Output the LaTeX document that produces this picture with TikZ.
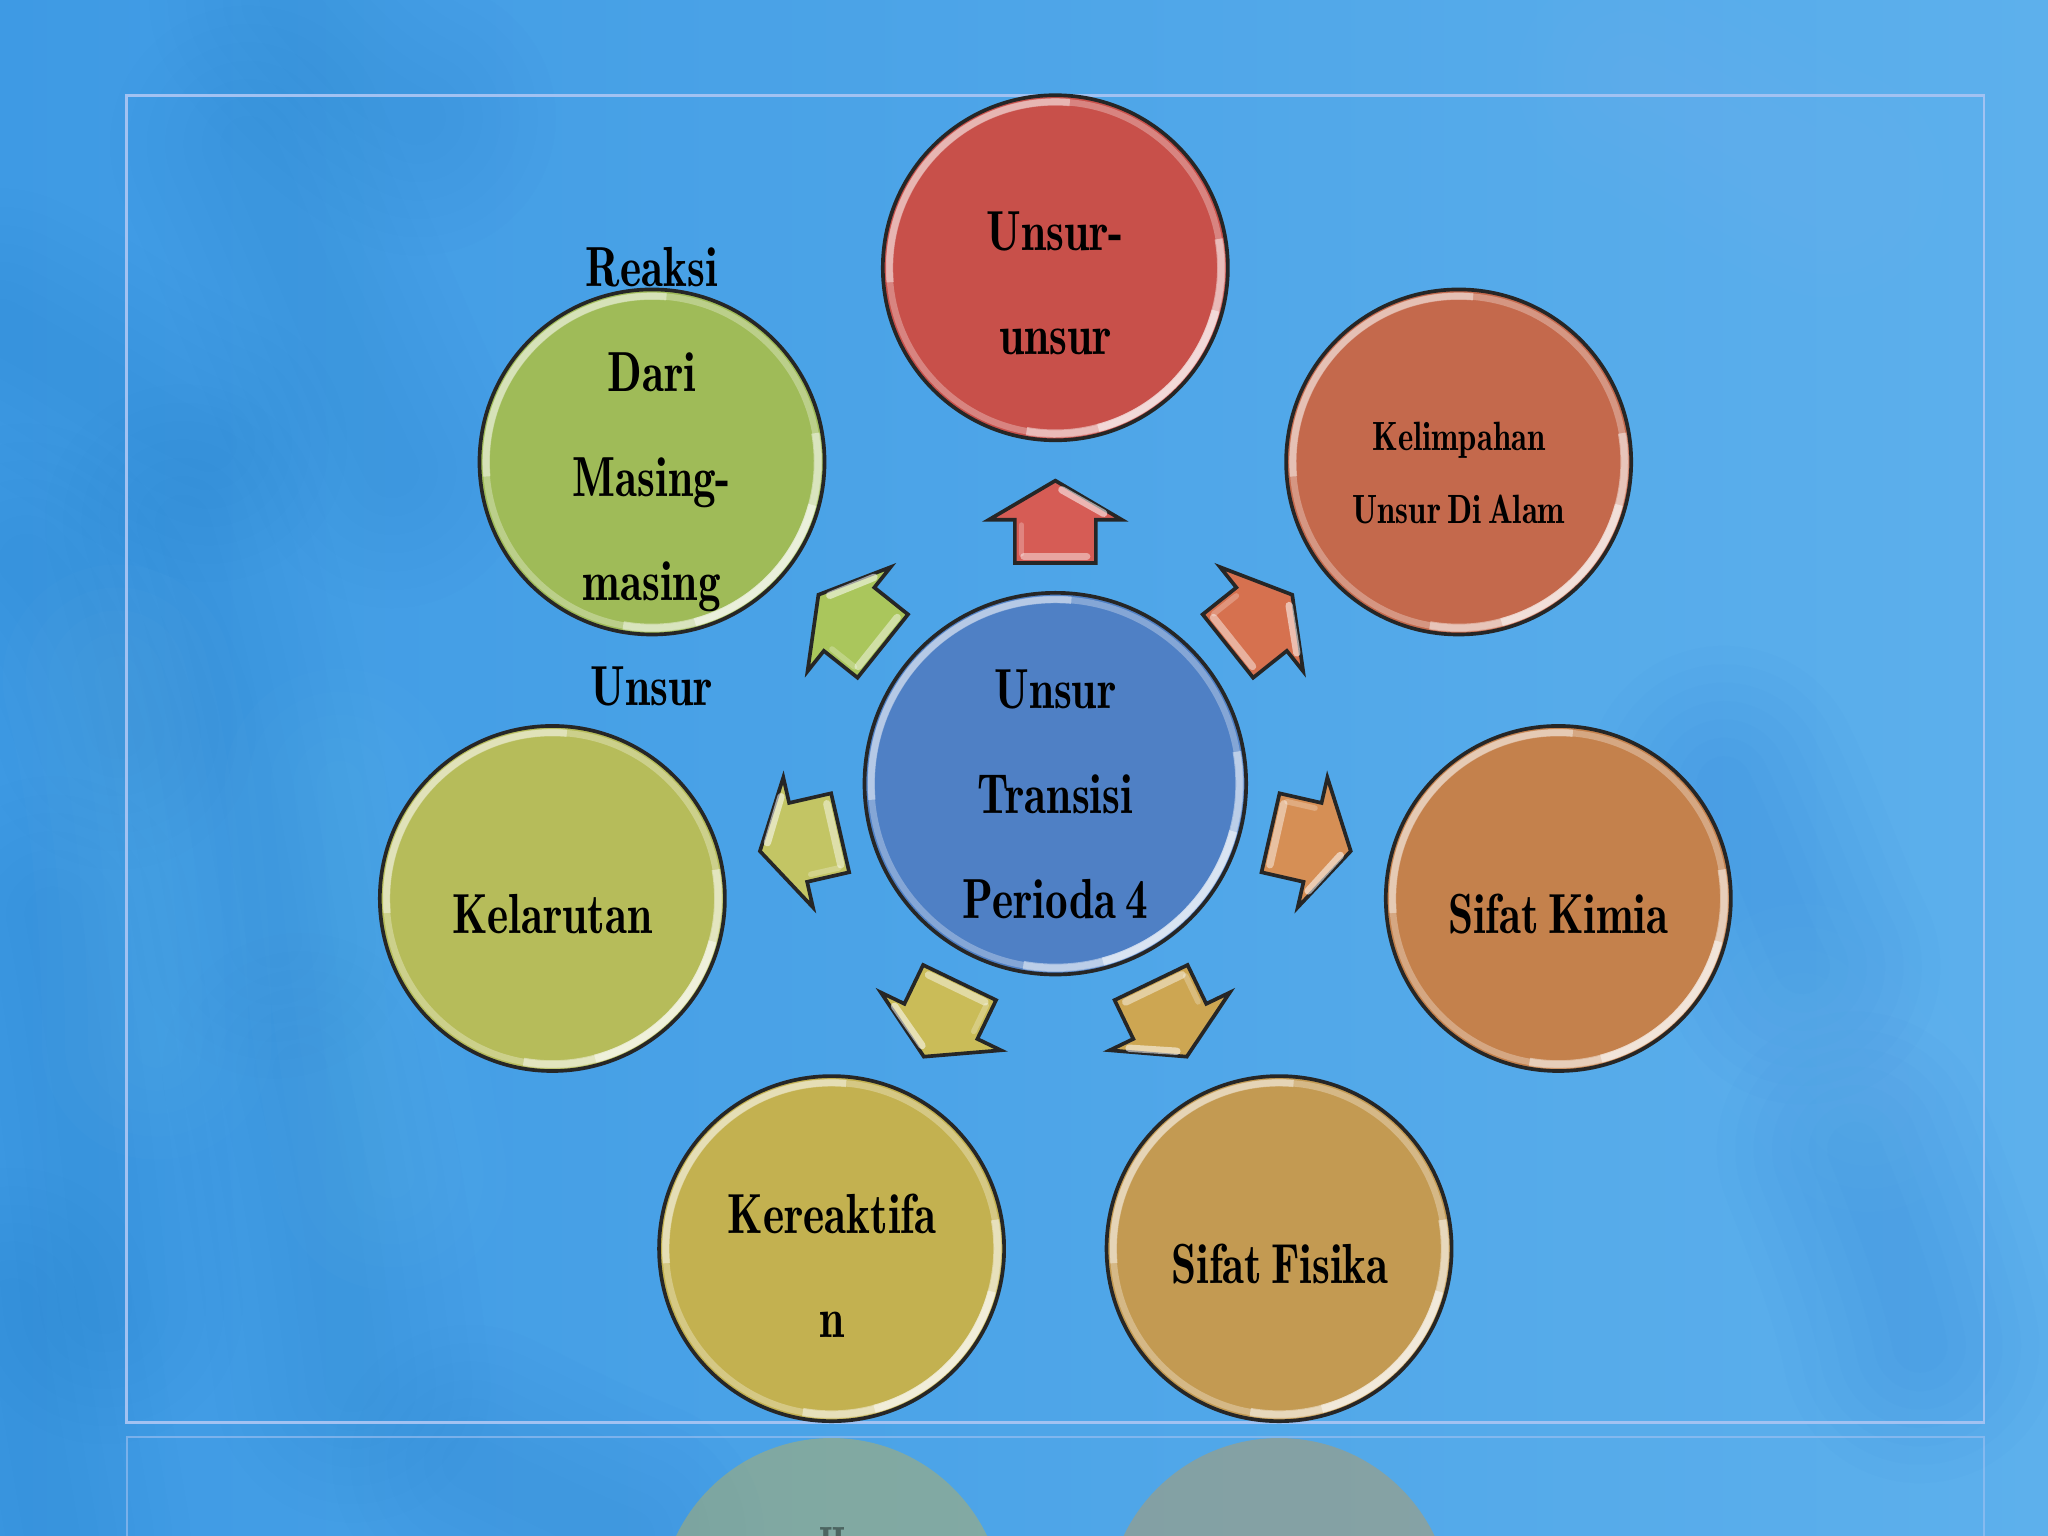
\documentclass[tikz,border=0pt]{standalone}
\usepackage{fontspec}
\newfontfamily\gab{lmromandemi10-regular.otf}[FakeStretch=0.80, WordSpace=0.6]
\usetikzlibrary{calc}
\definecolor{bgL}{HTML}{3E9AE4}
\definecolor{bgR}{HTML}{5DB0EC}
\definecolor{bgD}{HTML}{1C74C4}
\definecolor{bgLt}{HTML}{7CC4F4}
\definecolor{framecol}{HTML}{A2C2F2}
\definecolor{cBlue}{HTML}{4F80C5}
\definecolor{cRed}{HTML}{C8504A}
\definecolor{cKel}{HTML}{C4694C}
\definecolor{cKim}{HTML}{C4814C}
\definecolor{cFis}{HTML}{C39A52}
\definecolor{cKer}{HTML}{C3B150}
\definecolor{cLar}{HTML}{B6BC5A}
\definecolor{cRea}{HTML}{9FBB58}
\definecolor{aRed}{HTML}{D65C55}
\definecolor{aKel}{HTML}{D6714F}
\definecolor{aKim}{HTML}{D68F55}
\definecolor{aFis}{HTML}{CDA652}
\definecolor{aKer}{HTML}{CABC58}
\definecolor{aLar}{HTML}{C3C564}
\definecolor{aRea}{HTML}{AAC65C}
\tikzset{
  bubblestyle/.style={circle, draw=black!85, line width=0.8pt, inner sep=0pt, outer sep=0pt},
  arrowstyle/.style={draw=black!85, line width=0.8pt, line join=miter},
  txt/.style={font=\gab\fontsize{12.3}{22.8}\selectfont, align=center, text=black, inner sep=0pt},
  smalltxt/.style={font=\gab\fontsize{8.9}{15.9}\selectfont, align=center, text=black, inner sep=0pt},
}
% #1 name, #2 position, #3 radius, #4 inner radius, #5 colour
\newcommand\bubble[5]{%
  \node[bubblestyle, fill=#5, minimum size=#3*0.02cm] (#1) at (#2) {};
  \draw[white, opacity=.30, line width=1.4pt] (#1.center) circle[radius=#4];
  \draw[white, opacity=.45, line width=1.8pt] ($(#1.center)+(-10:#4)$) arc[start angle=-10, end angle=100, radius=#4];
  \draw[white, opacity=.45, line width=1.8pt] ($(#1.center)+(15:#4)$) arc[start angle=15, end angle=75, radius=#4];
  \draw[white, opacity=.40, line width=1.6pt] ($(#1.center)+(175:#4)$) arc[start angle=175, end angle=275, radius=#4];
}
% #1 angle, #2 colour
\newcommand\blockarrow[2]{%
  \begin{scope}[shift={(ctr.center)}, rotate=#1]
    \draw[arrowstyle, fill=#2] (169,-31) -- (202,-31) -- (202,-51) -- (232,0) -- (202,51) -- (202,31) -- (169,31) -- cycle;
    \draw[white, opacity=.55, line width=1.6pt, line cap=round] (225,5) -- (207,37);
    \draw[white, opacity=.45, line width=1.6pt, line cap=round] (174,-24) -- (174,24);
    \draw[white, opacity=.25, line width=1.2pt, line cap=round] (198,-26) -- (176,-26);
  \end{scope}
}
\newcommand\streak[1]{%
  \foreach \ww in {60,52,44,36,28,20,12}{\draw[bgD, line width=\ww pt, opacity=0.025, line cap=round] #1;}%
}
\newcommand\glow[1]{%
  \foreach \ww in {50,40,30,20,10}{\draw[bgLt, line width=\ww pt, opacity=0.03, line cap=round] #1;}%
}
\begin{document}
\begin{tikzpicture}[x=0.01cm, y=-0.01cm]
\useasboundingbox (0,0) rectangle (1568,1176);
% background
\shade[left color=bgL, right color=bgR] (0,0) rectangle (1568,1176);
\streak{(220,0) .. controls (250,40) and (280,70) .. (320,90)}
\streak{(0,250) .. controls (60,280) and (110,320) .. (160,340)}
\streak{(190,110) .. controls (230,200) and (260,280) .. (300,360)}
\streak{(140,400) .. controls (170,500) and (190,600) .. (210,720)}
\streak{(20,430) .. controls (50,460) and (70,500) .. (90,560)}
\streak{(40,700) .. controls (60,800) and (70,900) .. (80,1000)}
\streak{(10,1000) .. controls (20,1060) and (30,1120) .. (40,1176)}
\streak{(230,820) .. controls (250,900) and (260,980) .. (270,1060)}
\streak{(1320,600) .. controls (1340,640) and (1360,700) .. (1380,740)}
\streak{(1420,880) .. controls (1440,930) and (1460,980) .. (1470,1030)}
\streak{(360,1120) .. controls (400,1140) and (440,1160) .. (480,1176)}
\glow{(90,520) .. controls (110,600) and (120,700) .. (120,800)}
\glow{(1250,60) .. controls (1300,80) and (1350,120) .. (1400,140)}
\glow{(1380,780) .. controls (1400,800) and (1420,820) .. (1430,840)}
\glow{(260,600) .. controls (270,700) and (280,800) .. (300,900)}
% frame
\draw[framecol, line width=0.6pt] (97,73) rectangle (1519,1089);
\draw[framecol, opacity=.6, line width=0.5pt] (97,1176) -- (97,1100) -- (1519,1100) -- (1519,1176);
% reflections
\begin{scope}
  \clip (0,1101) rectangle (1568,1176);
  \fill[cKer, opacity=.45] (636.7,1233) circle[radius=132];
  \fill[cFis, opacity=.45] (979.3,1233) circle[radius=132];
  \node[txt, text opacity=.4] (refln) at (637,1179) {\scalebox{1}[-1]{n}};
\end{scope}
% central circle
\bubble{ctr}{808,600}{146}{141}{cBlue}
% arrows
\blockarrow{90}{aRed}
\blockarrow{38.57}{aKel}
\blockarrow{-12.86}{aKim}
\blockarrow{-64.29}{aFis}
\blockarrow{-115.71}{aKer}
\blockarrow{-167.14}{aLar}
\blockarrow{141.43}{aRea}
% outer circles
\bubble{uns}{808,205}{132}{127}{cRed}
\bubble{kel}{1116.8,353.7}{132}{127}{cKel}
\bubble{kim}{1193.1,687.9}{132}{127}{cKim}
\bubble{fis}{979.3,956}{132}{127}{cFis}
\bubble{ker}{636.7,956}{132}{127}{cKer}
\bubble{lar}{422.9,687.9}{132}{127}{cLar}
\bubble{rea}{499.2,353.7}{132}{127}{cRea}
% texts
\node[txt] (ctr-t) at (808,608) {Unsur\\Transisi\\Perioda 4};
\node[txt] (uns-t) at (808,217) {Unsur-\\unsur};
\node[smalltxt] (kel-t) at (1117,362) {Kelimpahan\\Unsur Di Alam};
\node[txt] (kim-t) at (1193,700) {Sifat Kimia};
\node[txt] (fis-t) at (980,968) {Sifat Fisika};
\node[txt] (ker-t) at (637,969) {Kereaktifa\\n};
\node[txt] (lar-t) at (423,700) {Kelarutan};
\node[txt] (rea-t) at (499,365) {Reaksi\\Dari\\Masing-\\masing\\Unsur};
\end{tikzpicture}
\end{document}
